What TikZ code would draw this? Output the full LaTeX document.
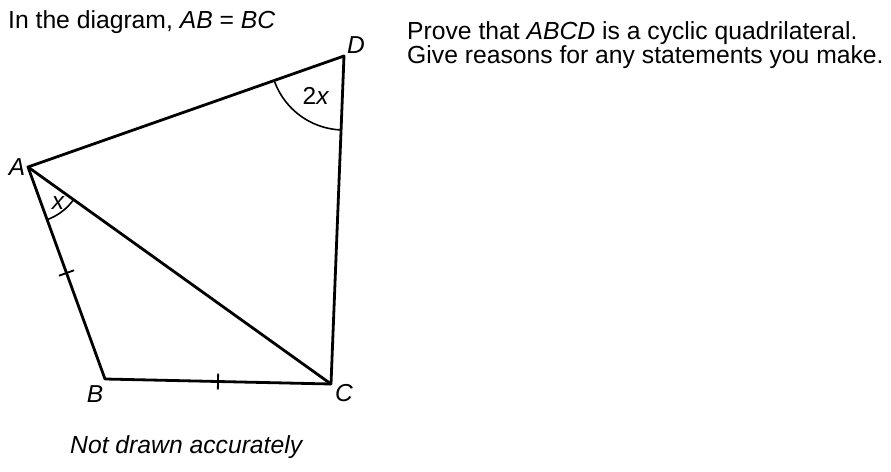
\documentclass[tikz,border=0pt]{standalone}
\usepackage{fontspec}
\setmainfont{Liberation Sans}
\usetikzlibrary{calc}
\begin{document}
\begin{tikzpicture}[x=1pt,y=-1pt,
  edge/.style={line width=2.8pt,line cap=round,line join=round},
  arcline/.style={line width=1.6pt},
  tick/.style={line width=1.8pt},
  lbl/.style={font=\fontsize{24.5}{28}\selectfont\itshape,inner sep=0pt},
  txt/.style={font=\fontsize{24.7}{29}\selectfont,inner sep=0pt,anchor=base west}]
\useasboundingbox (0,0) rectangle (891,471);
\coordinate (A) at (28,167);
\coordinate (B) at (105,379);
\coordinate (C) at (331,384);
\coordinate (D) at (344,56);
\draw[edge] (A) -- (D) -- (C) -- (B) -- cycle;
\draw[edge] (A) -- (C);
% angle arcs
\draw[arcline] plot[domain=92.3:160.6,samples=40,smooth] ({344+74*cos(\x)},{56+74*sin(\x)});
\draw[arcline] plot[domain=35.6:70.0,samples=30,smooth] ({28+56*cos(\x)},{167+56*sin(\x)});
% ticks
\coordinate (mAB) at ($(A)!0.5!(B)$);
\coordinate (mBC) at ($(B)!0.5!(C)$);
\draw[tick] ($(mAB)!8pt!90:(B)$) -- ($(mAB)!8pt!-90:(B)$);
\draw[tick] ($(mBC)!8pt!90:(C)$) -- ($(mBC)!8pt!-90:(C)$);
% labels
\node[lbl] (lA) at (17,167) {A};
\node[lbl] (lB) at (95,394) {B};
\node[lbl] (lC) at (344,393) {C};
\node[lbl] (lD) at (356,45) {D};
\node[lbl] (lx) at (58,203) {x};
\node[lbl,font=\fontsize{24.5}{28}\selectfont] (l2x) at (316,96) {2\textit{x}};
% texts
\node[txt] (t1) at (8,28) {In the diagram, \textit{AB} = \textit{BC}};
\node[txt] (t2) at (407,39) {Prove that \textit{ABCD} is a cyclic quadrilateral.};
\node[txt] (t3) at (407,63) {Give reasons for any statements you make.};
\node[txt,font=\fontsize{24.7}{29}\selectfont\itshape] (t4) at (70,453) {Not drawn accurately};
\end{tikzpicture}
\end{document}
